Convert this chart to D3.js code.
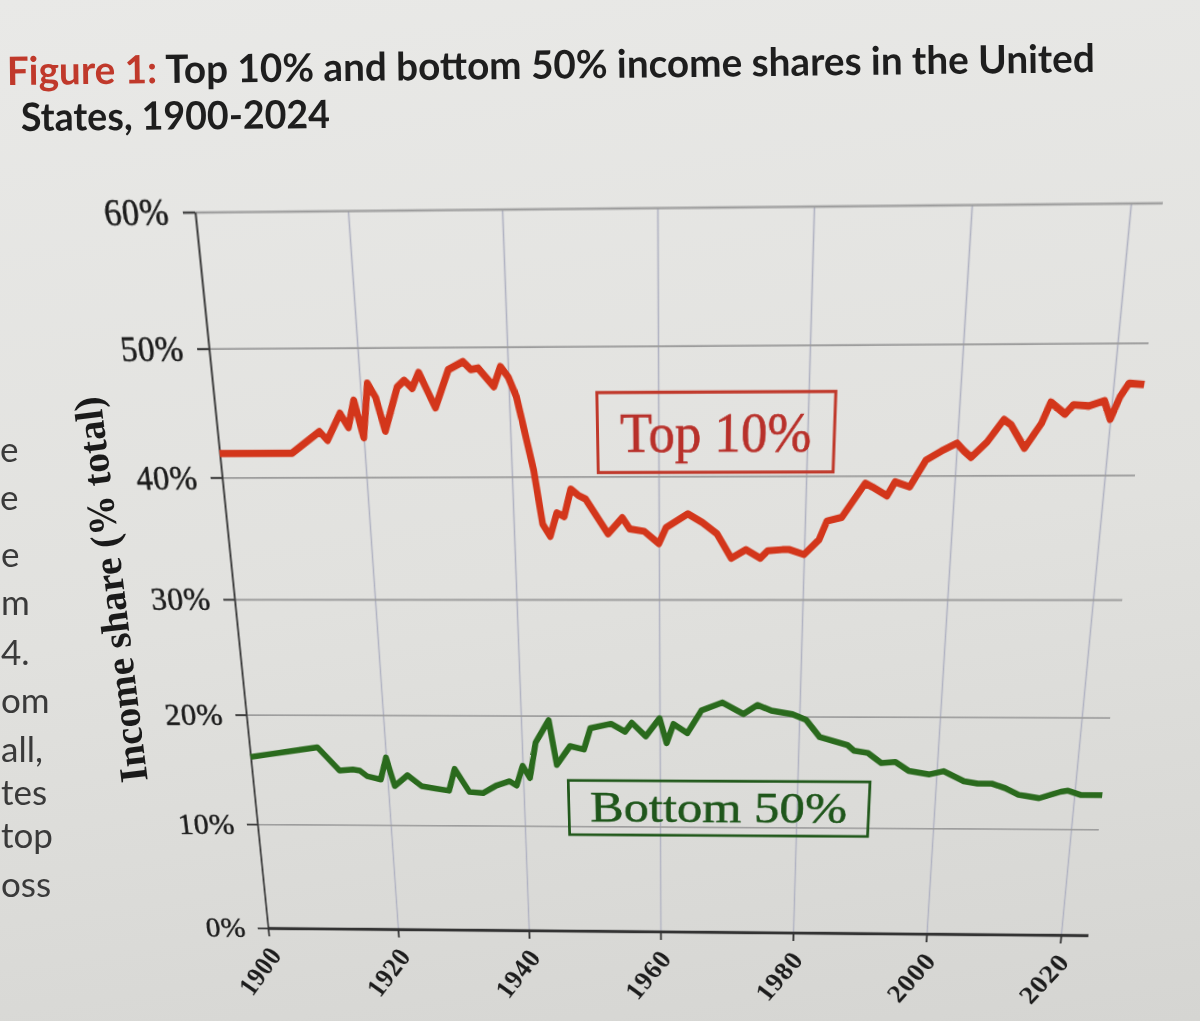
<!DOCTYPE html>
<html>
<head>
<meta charset="utf-8">
<script src="https://cdn.jsdelivr.net/npm/d3@7"></script>
<style>
  html, body { margin: 0; padding: 0; }
  body {
    width: 1200px; height: 1021px; overflow: hidden; position: relative;
    background: linear-gradient(172deg, #e9e9e7 0%, #e1e1de 55%, #d5d5d2 100%);
  }
  svg { position: absolute; left: 0; top: 0; }
  #chart { transform-origin: 0 0; }
</style>
</head>
<body>
<svg id="chart" width="1200" height="1021"></svg>
<svg id="overlay" width="1200" height="1021"></svg>
<script>
// values (income share, % of total)
const years10 = [1900, 1910, 1914, 1915, 1917, 1918, 1919, 1920, 1921, 1922,
    1923, 1925, 1926, 1927, 1928, 1930, 1932, 1934, 1935, 1936,
    1938, 1939, 1940, 1941, 1943, 1944, 1945, 1946, 1947, 1948,
    1949, 1950, 1953, 1955, 1956, 1958, 1960, 1961, 1964, 1966,
    1968, 1970, 1972, 1974, 1975, 1977, 1978, 1980, 1982, 1983,
    1985, 1988, 1989, 1991, 1992, 1994, 1996, 1998, 2000, 2001,
    2002, 2004, 2006, 2007, 2009, 2011, 2012, 2014, 2015, 2017,
    2019, 2020, 2021, 2022, 2024];
const top10 = [41.9, 41.9, 43.6, 42.9, 45.0, 43.9, 46.0, 43.1, 47.3, 46.2,
    43.6, 47.0, 47.5, 46.9, 48.1, 45.4, 48.3, 48.9, 48.3, 48.4,
    47.0, 48.5, 47.7, 46.2, 40.5, 36.2, 35.2, 37.1, 36.8, 39.0,
    38.5, 38.2, 35.4, 36.7, 35.8, 35.6, 34.6, 35.9, 37.0, 36.3,
    35.4, 33.4, 34.1, 33.4, 34.0, 34.1, 34.1, 33.7, 34.9, 36.4,
    36.7, 39.4, 39.1, 38.4, 39.5, 39.1, 41.2, 41.9, 42.5, 41.9,
    41.4, 42.6, 44.3, 43.9, 42.1, 44.0, 45.6, 44.7, 45.4, 45.3,
    45.7, 44.3, 46.0, 47.0, 46.9];

const years50 = [1900, 1910, 1913, 1915, 1916, 1917, 1919, 1920, 1921, 1923,
    1925, 1927, 1929, 1930, 1932, 1934, 1936, 1938, 1939, 1940,
    1941, 1942, 1944, 1945, 1947, 1949, 1950, 1953, 1955, 1956,
    1958, 1960, 1961, 1962, 1964, 1966, 1969, 1972, 1974, 1976,
    1979, 1981, 1983, 1987, 1988, 1990, 1992, 1994, 1996, 1999,
    2001, 2004, 2006, 2008, 2010, 2012, 2013, 2015, 2017, 2018,
    2019, 2021, 2024];
const bottom50 = [16.2, 17.1, 15.0, 15.1, 15.0, 14.5, 14.2, 16.2, 13.6, 14.6,
    13.6, 13.4, 13.2, 15.2, 13.1, 13.0, 13.7, 14.1, 13.7, 15.5,
    14.4, 17.6, 19.6, 15.6, 17.3, 17.0, 18.9, 19.3, 18.6, 19.4,
    18.2, 19.8, 17.6, 19.3, 18.5, 20.5, 21.2, 20.2, 21.0, 20.5,
    20.2, 19.7, 18.2, 17.5, 17.0, 16.8, 15.9, 16.0, 15.2, 14.9,
    15.2, 14.3, 14.1, 14.1, 13.7, 13.1, 13.0, 12.8, 13.2, 13.4,
    13.5, 13.1, 13.1];

const yTicks = [0, 10, 20, 30, 40, 50, 60];
const xTicks = [1900, 1920, 1940, 1960, 1980, 2000, 2020];

const red = '#d3361b';
const green = '#2a6a1d';
const serif = '"Liberation Serif", "DejaVu Serif", serif';

const x = d3.scaleLinear().domain([1900, 2024]).range([200, 1130]);
const y = d3.scaleLinear().domain([0, 60]).range([930, 200]);

const chart = d3.select('#chart');

// grid
chart.append('g')
    .attr('transform', `translate(0, ${y(0)})`)
    .call(d3.axisBottom(x).tickValues(xTicks.slice(1)).tickSize(-(y(0) - y(60))).tickFormat(''))
    .call(g => g.select('.domain').remove())
    .selectAll('line')
    .attr('stroke', '#b2b4c3')
    .attr('stroke-width', 1.6);

chart.append('g')
    .attr('transform', `translate(${x(1900)}, 0)`)
    .call(d3.axisLeft(y).tickValues(yTicks.slice(1)).tickSize(-(x(2024) - x(1900))).tickFormat(''))
    .call(g => g.select('.domain').remove())
    .selectAll('line')
    .attr('stroke', '#9c9c9c')
    .attr('stroke-width', 1.8);

// axes
const yAxisGroup = chart.append('g')
    .attr('transform', `translate(${x(1900)}, 0)`)
    .call(d3.axisLeft(y).tickValues(yTicks).tickFormat(d => d + '%').tickSize(12).tickSizeOuter(0).tickPadding(14));
yAxisGroup.selectAll('.domain, .tick line')
    .attr('stroke', '#3a3a3a')
    .attr('stroke-width', 2);
yAxisGroup.selectAll('text')
    .attr('font-family', serif)
    .attr('font-size', 34)
    .attr('letter-spacing', 0.5)
    .attr('stroke', '#1c1c1c')
    .attr('stroke-width', 0.5)
    .attr('fill', '#1c1c1c');

const xAxisGroup = chart.append('g')
    .attr('transform', `translate(0, ${y(0)})`)
    .call(d3.axisBottom(x).tickValues(xTicks).tickFormat(d3.format('d')).tickSize(10).tickSizeOuter(0));
xAxisGroup.select('.domain')
    .attr('stroke', '#333')
    .attr('stroke-width', 3.5);
xAxisGroup.selectAll('.tick line')
    .attr('stroke', '#333')
    .attr('stroke-width', 2);
xAxisGroup.selectAll('text')
    .attr('y', 0)
    .attr('dy', '0.35em')
    .attr('text-anchor', 'end')
    .attr('transform', 'translate(5, 26) rotate(-52)')
    .attr('font-family', serif)
    .attr('font-weight', 'bold')
    .attr('font-size', 31)
    .attr('letter-spacing', 1)
    .attr('fill', '#1c1c1c');

// series
const line = d3.line()
    .x(d => x(d[0]))
    .y(d => y(d[1]));

chart.append('path')
    .datum(d3.zip(years50, bottom50))
    .attr('d', line)
    .attr('fill', 'none')
    .attr('stroke', green)
    .attr('stroke-width', 6.5)
    .attr('stroke-linejoin', 'round');

chart.append('path')
    .datum(d3.zip(years10, top10))
    .attr('d', line)
    .attr('fill', 'none')
    .attr('stroke', red)
    .attr('stroke-width', 7)
    .attr('stroke-linejoin', 'round');

// labelled boxes, placed in data units
const labels = [
    { text: 'Top 10%', x0: 1951.8, x1: 1983.6, y0: 46.5, y1: 40.3, base: 41.9,
      size: 52, width: 193, stroke: '#c0392b', fill: '#b8302a' },
    { text: 'Bottom 50%', x0: 1946.6, x1: 1990.5, y0: 14.2, y1: 9.2, base: 10.4,
      size: 48, width: 282, stroke: '#22591c', fill: '#1f561b' }
];

labels.forEach(l => {
    chart.append('rect')
        .attr('x', x(l.x0))
        .attr('y', y(l.y0))
        .attr('width', x(l.x1) - x(l.x0))
        .attr('height', y(l.y1) - y(l.y0))
        .attr('fill', 'none')
        .attr('stroke', l.stroke)
        .attr('stroke-width', 3);

    chart.append('text')
        .attr('x', x((l.x0 + l.x1) / 2))
        .attr('y', y(l.base))
        .attr('text-anchor', 'middle')
        .attr('font-family', serif)
        .attr('font-size', l.size)
        .attr('textLength', l.width)
        .attr('lengthAdjust', 'spacingAndGlyphs')
        .attr('fill', l.fill)
        .attr('stroke', l.fill)
        .attr('stroke-width', 0.6)
        .text(l.text);
});

// the chart was photographed at an angle: map the flat plot onto the screen quad
const squareToQuad = (p0, p1, p2, p3) => {
    const dx1 = p1[0] - p2[0], dx2 = p3[0] - p2[0], dx3 = p0[0] - p1[0] + p2[0] - p3[0];
    const dy1 = p1[1] - p2[1], dy2 = p3[1] - p2[1], dy3 = p0[1] - p1[1] + p2[1] - p3[1];
    const det = dx1 * dy2 - dx2 * dy1;
    const g = (dx3 * dy2 - dx2 * dy3) / det;
    const h = (dx1 * dy3 - dx3 * dy1) / det;
    return [
        [p1[0] - p0[0] + g * p1[0], p3[0] - p0[0] + h * p3[0], p0[0]],
        [p1[1] - p0[1] + g * p1[1], p3[1] - p0[1] + h * p3[1], p0[1]],
        [g, h, 1]
    ];
};

const multiply = (a, b) => a.map(row => [0, 1, 2].map(j => row[0] * b[0][j] + row[1] * b[1][j] + row[2] * b[2][j]));

const X0 = x(1900), X1 = x(2020), Y0 = y(60), Y1 = y(0);
const toUnit = [
    [1 / (X1 - X0), 0, -X0 / (X1 - X0)],
    [0, 1 / (Y1 - Y0), -Y0 / (Y1 - Y0)],
    [0, 0, 1]
];
const H = squareToQuad([195, 212], [1131, 203], [1061, 935], [268, 928]);
const M = multiply(H, toUnit);

document.querySelector('#chart').style.transform =
    `matrix3d(${M[0][0]}, ${M[1][0]}, 0, ${M[2][0]}, ${M[0][1]}, ${M[1][1]}, 0, ${M[2][1]}, 0, 0, 1, 0, ${M[0][2]}, ${M[1][2]}, 0, ${M[2][2]})`;

// flat overlay: title, axis title and the cut-off page text at the left edge
const overlay = d3.select('#overlay');

const title1 = overlay.append('text')
    .attr('transform', 'translate(7, 85) rotate(-0.68)')
    .attr('font-family', 'Lato, "Open Sans", sans-serif')
    .attr('font-weight', 'bold')
    .attr('font-size', 39)
    .attr('textLength', 1088)
    .attr('lengthAdjust', 'spacingAndGlyphs');
title1.append('tspan').attr('fill', '#c0392b').text('Figure 1: ');
title1.append('tspan').attr('fill', '#1e1e1e').text('Top 10% and bottom 50% income shares in the United');

overlay.append('text')
    .attr('transform', 'translate(21, 131) rotate(-0.56)')
    .attr('font-family', 'Lato, "Open Sans", sans-serif')
    .attr('font-weight', 'bold')
    .attr('font-size', 39)
    .attr('textLength', 309)
    .attr('lengthAdjust', 'spacingAndGlyphs')
    .attr('fill', '#1e1e1e')
    .text('States, 1900-2024');

overlay.append('text')
    .attr('transform', 'translate(124, 588) rotate(-97)')
    .attr('text-anchor', 'middle')
    .attr('font-family', serif)
    .attr('font-weight', 'bold')
    .attr('font-size', 40)
    .attr('textLength', 388)
    .attr('lengthAdjust', 'spacingAndGlyphs')
    .attr('fill', '#1a1a1a')
    .text('Income share (% total)');

const edgeWords = ['e', 'e', 'e', 'm', '4.', 'om', 'all,', 'tes', 'top', 'oss'];
const edgeStarts = [0, 0, 1, 1, 1, 1, 1, 1, 1, 1];
const edgeBase = [462, 510, 567, 615, 665, 713, 762, 805, 848, 897];

overlay.selectAll('.edge')
    .data(edgeWords)
    .enter()
    .append('text')
    .attr('class', 'edge')
    .attr('x', (d, i) => edgeStarts[i])
    .attr('y', (d, i) => edgeBase[i])
    .attr('font-family', 'Lato, sans-serif')
    .attr('font-size', 35)
    .attr('fill', '#3a3a3a')
    .text(d => d);
</script>
</body>
</html>
